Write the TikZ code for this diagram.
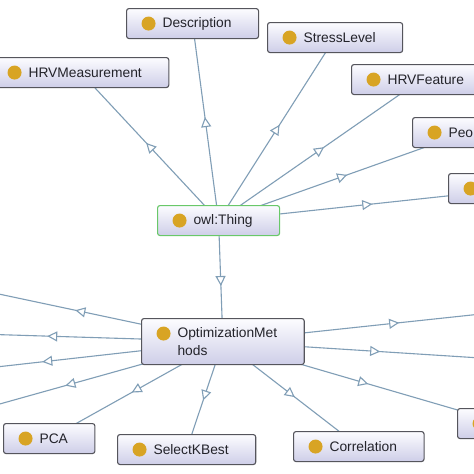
\documentclass[tikz,border=0pt]{standalone}
\usepackage{fontspec}
\setmainfont{Liberation Sans}
\usetikzlibrary{arrows.meta,decorations.markings,backgrounds}

\definecolor{boxline}{RGB}{85,85,92}
\definecolor{boxtop}{RGB}{252,252,255}
\definecolor{boxbot}{RGB}{206,206,232}
\definecolor{thingline}{RGB}{105,200,105}
\definecolor{dotcol}{RGB}{216,164,36}
\definecolor{edgecol}{RGB}{128,158,182}
\definecolor{labelcol}{RGB}{35,35,42}

\newcommand\clsname[1]{\hspace*{9pt}#1}

\tikzset{
  cls/.style={draw=boxline, line width=1.1pt, rounded corners=2.5pt,
    top color=boxtop, bottom color=boxbot, anchor=north west,
    minimum height=30pt, inner xsep=27pt, inner ysep=4pt, align=left,
    text=labelcol, font=\fontsize{13.8}{18.5}\selectfont,
    path picture={\fill[dotcol] ([shift={(22pt,-15pt)}]path picture bounding box.north west) circle (7pt);}},
  thing/.style={cls, draw=thingline},
  subarrow/.style={draw=edgecol, line width=1.1pt, postaction={decorate},
    decoration={markings, mark=at position 0.5 with {\arrow[xshift=5pt]{Triangle[length=10pt, width=10pt, fill=white]}}}},
}

\begin{document}
\begin{tikzpicture}[x=1pt, y=-1pt]
    \useasboundingbox (0,0) rectangle (474,474);
    \clip (0,0) rectangle (474,474);

    \node[cls] (desc) at (126,8) {\clsname{Description}};
    \node[cls] (stress) at (267,22) {\clsname{StressLevel}};
    \node[cls] (hrvm) at (-8,57) {\clsname{HRVMeasurement}};
    \node[cls] (hrvf) at (351,64) {\clsname{HRVFeature}};
    \node[cls] (peo) at (412,117) {\clsname{Peo}\hspace*{20pt}};
    \node[cls, minimum width=135pt] (rightB) at (448,173) {};

    \node[thing] (owl) at (157,205) {\clsname{owl:Thing}};

    \node[cls, minimum height=46pt] (opt) at (141,318) {\clsname{OptimizationMet}\\\clsname{hods}};

    \node[cls] (pca) at (3,423) {\clsname{PCA}};
    \node[cls] (skb) at (117,434) {\clsname{SelectKBest}};
    \node[cls] (corr) at (293,431) {\clsname{Correlation}};
    \node[cls, minimum width=93pt] (lowright) at (457,408) {};

    \coordinate (leftA) at (-62.5,281);
    \coordinate (leftB) at (-118.5,331);
    \coordinate (leftC) at (-128.5,381);
    \coordinate (leftD) at (-82.5,427);
    \coordinate (rightC) at (565.5,305);
    \coordinate (rightD) at (527.5,361);

    \begin{pgfonlayer}{background}
    \fill[white] (0,0) rectangle (474,474);
    \clip (0,0) rectangle (474,474);
    \draw[subarrow] (owl.center) -- (hrvm.center);
    \draw[subarrow] (owl.center) -- (desc.center);
    \draw[subarrow] (owl.center) -- (stress.center);
    \draw[subarrow] (owl.center) -- (hrvf.center);
    \draw[subarrow] (owl.center) -- (peo.center);
    \draw[subarrow] (owl.center) -- (rightB.center);
    \draw[subarrow] (owl.center) -- (opt.center);

    \draw[subarrow] (opt.center) -- (leftA);
    \draw[subarrow] (opt.center) -- (leftB);
    \draw[subarrow] (opt.center) -- (leftC);
    \draw[subarrow] (opt.center) -- (leftD);
    \draw[subarrow] (opt.center) -- (pca.center);
    \draw[subarrow] (opt.center) -- (skb.center);
    \draw[subarrow] (opt.center) -- (corr.center);
    \draw[subarrow] (opt.center) -- (lowright.center);
    \draw[subarrow] (opt.center) -- (rightD);
    \draw[subarrow] (opt.center) -- (rightC);
    \end{pgfonlayer}
\end{tikzpicture}
\end{document}
